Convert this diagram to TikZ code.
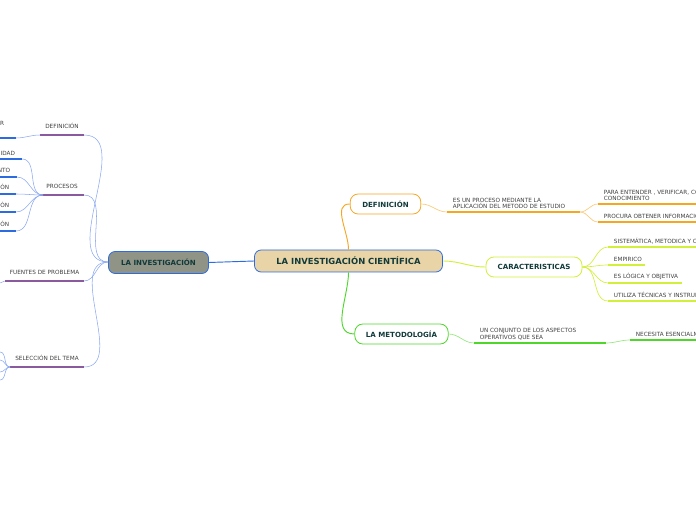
\documentclass[tikz,border=0pt]{standalone}
\usepackage{fontspec}
\setmainfont{DejaVu Sans}
\usetikzlibrary{positioning}
\definecolor{tan}{HTML}{E8D4A6}
\definecolor{grayf}{HTML}{8F9487}
\definecolor{bluel}{HTML}{2D6BE0}
\definecolor{bluet}{HTML}{8AA8F0}
\definecolor{purp}{HTML}{8A5A9E}
\definecolor{orng}{HTML}{F5A623}
\definecolor{lime}{HTML}{D4EE3C}
\definecolor{grn}{HTML}{4ED62A}
\definecolor{darktext}{HTML}{123A3A}
\tikzset{
  mainbox/.style={draw=bluel,rounded corners=5pt,line width=0.6pt,minimum height=16.5pt,font=\fontsize{6.3}{7}\selectfont\bfseries,text=darktext},
  topic/.style={draw,fill=white,rounded corners=6pt,line width=0.6pt,minimum height=15pt,font=\fontsize{5.3}{6}\selectfont\bfseries,text=darktext},
  leaf/.style={anchor=south west,inner sep=0.5pt,font=\fontsize{4.3}{5}\selectfont,text=black!75,align=left},
}
\begin{document}
\begin{tikzpicture}[x=0.75pt,y=-0.75pt]
\useasboundingbox (0,0) rectangle (696,520);
\clip (0,0) rectangle (696,520);
%Central and left main nodes
\node[mainbox,fill=tan,minimum width=141pt] (center) at (348.5,261) {LA INVESTIGACIÓN CIENTÍFICA};
\node[mainbox,fill=grayf,minimum width=75pt,font=\fontsize{5.3}{6}\selectfont\bfseries] (inv) at (158.5,262.5) {LA INVESTIGACIÓN};
\draw[bluel,line width=0.7pt] (center.west) -- (inv.east);

%Left branches
\coordinate (invj) at (108,262);
\foreach \y/\xa/\name in {135/40/DEFINICIÓN,195/40/PROCESOS,281/5/FUENTES DE PROBLEMA,367/10/SELECCIÓN DEL TEMA}{
  \draw[bluet,line width=0.4pt] (invj) to[out=180,in=0] (84,\y);
  \draw[purp,line width=1pt] (84,\y) -- (\xa,\y);
  \node[anchor=south,font=\fontsize{4.3}{5}\selectfont,text=black!75] at ({(84+\xa)/2},\y-2) {\name};
}
\node[anchor=south,font=\fontsize{4.3}{5}\selectfont,text=black!75] at (2,130) {R};
\draw[bluet,line width=0.4pt] (40,135) to[out=180,in=0] (16,138);
\draw[bluel,line width=1pt] (16,138) -- (0,138);
\foreach \y/\xe/\t in {159/22/IDAD,177/17/ENTO,194/16/CIÓN,212/16/CIÓN,231/16/CIÓN}{
  \draw[bluet,line width=0.4pt] (43,195) to[out=180,in=0] (\xe,\y);
  \draw[bluel,line width=1pt] (\xe,\y) -- (0,\y);
  \node[anchor=south east,font=\fontsize{4.3}{5}\selectfont,text=black!75,inner sep=0.5pt] at (\xe-6,\y-3) {\t};
}
\draw[bluet,line width=0.4pt] (5,281) to[out=180,in=0] (0,283);
\foreach \y in {352,360,372,380}{
  \draw[bluet,line width=0.4pt] (10,367) to[out=180,in=0] (0,\y);
}

%Right topics
\node[topic,draw=orng,minimum width=53pt] (def) at (385.5,204) {DEFINICIÓN};
\node[topic,draw=lime,minimum width=72pt] (car) at (534,267) {CARACTERISTICAS};
\node[topic,draw=grn,minimum width=70pt] (met) at (401.5,334) {LA METODOLOGÍA};
\draw[orng,line width=0.7pt] (center.north) to[out=90,in=180] (def.west);
\draw[lime,line width=0.7pt] (center.east) to[out=0,in=180] (car.west);
\draw[grn,line width=0.7pt] (center.south) to[out=270,in=180] (met.west);

%Definición leaves
\draw[orng!60,line width=0.5pt] (def.east) to[out=0,in=180] (447,212);
\draw[orng,line width=1pt] (447,212) -- (580,212);
\node[leaf] at (452,210) {ES UN PROCESO MEDIANTE LA\\APLICACIÓN DEL METODO DE ESTUDIO};
\foreach \y/\t in {204/{PARA ENTENDER , VERIFICAR, CORREGIR O APLICAR EL\\CONOCIMIENTO},222/{PROCURA OBTENER INFORMACIÓN RELEVANTE}}{
  \draw[orng!60,line width=0.5pt] (580,212) to[out=0,in=180] (598,\y);
  \draw[orng,line width=1pt] (598,\y) -- (696,\y);
  \node[leaf] at (603,\y-2) {\t};
}

%Caracteristicas leaves
\foreach \y/\xe/\t in {247/696/{SISTEMÁTICA, METODICA Y CONTROLADA},265/645/EMPIRICO,283/682/{ES LÓGICA Y OBJETIVA},301/696/{UTILIZA TÉCNICAS Y INSTRUMENTOS}}{
  \draw[lime,line width=0.5pt] (car.east) to[out=0,in=180] (608,\y);
  \draw[lime,line width=1pt] (608,\y) -- (\xe,\y);
  \node[leaf] at (613,\y-2) {\t};
}

%Metodología leaves
\draw[grn!60,line width=0.5pt] (met.east) to[out=0,in=180] (474,343);
\draw[grn,line width=1pt] (474,343) -- (606,343);
\node[leaf] at (479,341) {UN CONJUNTO DE LOS ASPECTOS\\OPERATIVOS QUE SEA};
\draw[grn!60,line width=0.5pt] (606,343) to[out=0,in=180] (630,340);
\draw[grn,line width=1pt] (630,340) -- (696,340);
\node[leaf] at (635,338) {NECESITA ESENCIALMENTE};
\end{tikzpicture}
\end{document}
